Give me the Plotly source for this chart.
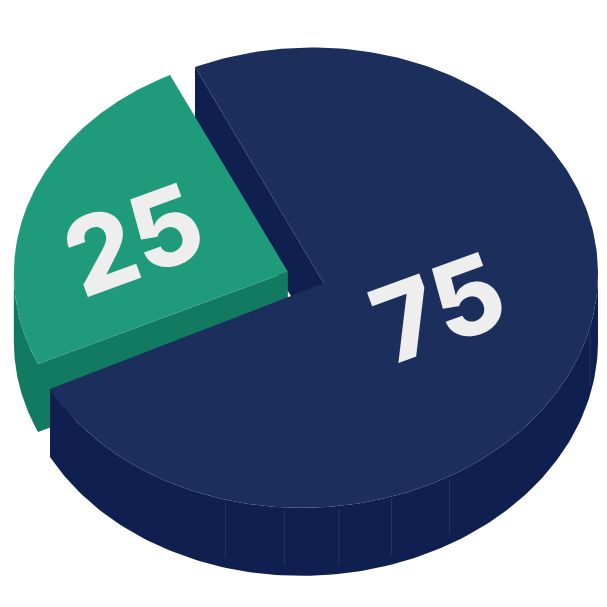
import numpy as np
import plotly.graph_objects as go

labels = ['75', '25']
values = [75, 25]

navy_top = '#1b2e5c'
navy_side = '#0f1f4f'
green_top = '#1f9a7b'
green_side = '#137a62'
text_colour = '#eeeeee'
seam_colour = 'rgba(150,165,200,0.25)'

# where the disc's four quarter points land in the picture, one set per slice
disc_pts = [(1, 0), (0, 1), (-1, 0), (0, -1)]
navy_view = [(195, 67), (576, 186), (441, 480), (50, 389)]
green_view = [(170, 75), (550, 175), (412, 479), (38, 364)]
depth = 68
seam_angles = [128, 178, 191, 202, 213, 225]


def homography(src, dst):
    a, b = [], []
    for (x, y), (u, v) in zip(src, dst):
        a.append([x, y, 1, 0, 0, 0, -u * x, -u * y])
        a.append([0, 0, 0, x, y, 1, -v * x, -v * y])
        b += [u, v]
    return np.append(np.linalg.solve(np.array(a, float), np.array(b, float)), 1).reshape(3, 3)


def project(H, x, y):
    w = H @ np.array([x, y, np.ones_like(x)])
    return w[0] / w[2], w[1] / w[2]


def rim(H, t0, t1, n=240):
    t = np.radians(np.linspace(t0, t1, n))
    return project(H, np.cos(t), np.sin(t))


def poly(fig, x, y, colour):
    fig.add_trace(go.Scatter(x=x, y=y, mode='lines', fill='toself', fillcolor=colour,
                             line=dict(width=0, color=colour), hoverinfo='skip', showlegend=False))


H_navy = homography(disc_pts, navy_view)
H_green = homography(disc_pts, green_view)

total = sum(values)
navy_end = 360 * values[0] / total

nx, ny = rim(H_navy, 0, navy_end)
gx, gy = rim(H_green, navy_end, 360)
ax0, ay0 = project(H_navy, 0.0, 0.0)
gax, gay = project(H_green, 0.0, 0.0)

fig = go.Figure()

# inner wall of the navy slice, sits behind the green one
poly(fig, [nx[0], ax0, ax0, nx[0]], [ny[0], ay0, ay0 + depth, ny[0] + depth], navy_side)

# green slice
i = np.argmin(gx)
poly(fig, np.r_[gx[:i + 1], gx[:i + 1][::-1]], np.r_[gy[:i + 1], gy[:i + 1][::-1] + depth], green_side)
poly(fig, [gax, gx[0], gx[0], gax], [gay, gy[0], gy[0] + depth, gay + depth], green_side)
poly(fig, np.r_[gax, gx], np.r_[gay, gy], green_top)

# navy slice
i = np.argmax(nx)
poly(fig, np.r_[nx[i:], nx[i:][::-1]], np.r_[ny[i:], ny[i:][::-1] + depth], navy_side)
poly(fig, np.r_[ax0, nx], np.r_[ay0, ny], navy_top)

# faint joins on the side of the navy slice
for a in seam_angles:
    sx, sy = rim(H_navy, a, a, 1)
    fig.add_trace(go.Scatter(x=[sx[0], sx[0]], y=[sy[0] + 3, sy[0] + depth - 10], mode='lines',
                             line=dict(width=0.7, color=seam_colour), hoverinfo='skip', showlegend=False))

fig.add_annotation(x=438, y=307, text=labels[0], textangle=-20, showarrow=False,
                   font=dict(family='Inter', size=106, color=text_colour, weight=800))
fig.add_annotation(x=133, y=239, text=labels[1], textangle=-20, showarrow=False,
                   font=dict(family='Inter', size=106, color=text_colour, weight=800))

fig.update_xaxes(range=[0, 607], visible=False, fixedrange=True)
fig.update_yaxes(range=[607, 0], visible=False, fixedrange=True)
fig.update_layout(width=607, height=607, margin=dict(l=0, r=0, t=0, b=0),
                  paper_bgcolor='white', plot_bgcolor='white', showlegend=False)

# page margin would push the figure off the 607 window
fig.write_html("out.html", config={'displayModeBar': False},
               post_script="document.body.style.margin='0';")
